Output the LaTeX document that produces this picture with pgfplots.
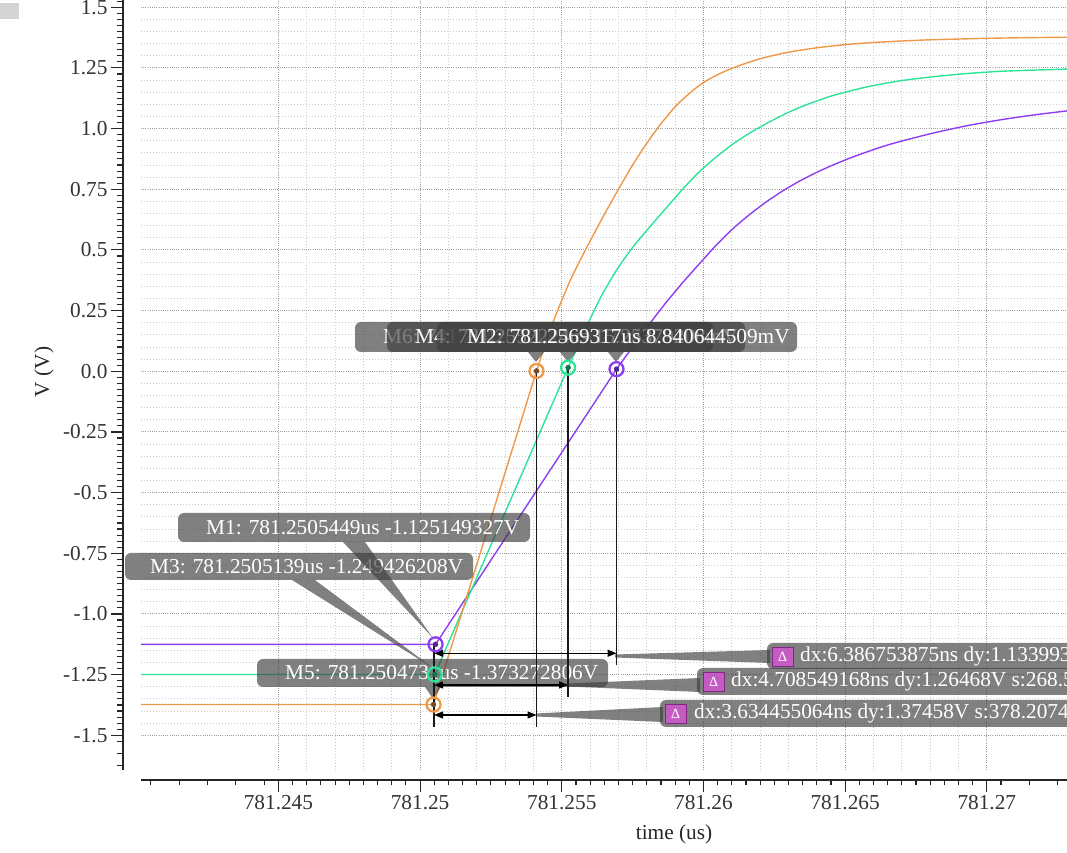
\documentclass[border=0pt]{standalone}
\usepackage{pgfplots}
\pgfplotsset{compat=1.18}
\usepackage{fontspec}
\setmainfont{Liberation Serif}
\usetikzlibrary{arrows.meta}
\definecolor{corange}{RGB}{238,152,72}
\definecolor{cgreen}{RGB}{44,228,150}
\definecolor{cpurple}{RGB}{140,62,240}
\definecolor{boxc}{RGB}{60,60,60}
\definecolor{deltac}{RGB}{196,92,196}
\definecolor{deltab}{RGB}{130,40,130}
\newcommand{\lfont}{\fontsize{21.3}{24}\selectfont}
\pgfplotsset{
  base/.style={
    scale only axis, width=926pt, height=770pt,
    xmin=-9.85, xmax=22.83, ymin=-1.643, ymax=1.530,
    at={(141pt,83pt)}, anchor=south west,
  }
}
\begin{document}
\begin{tikzpicture}
\useasboundingbox (0,0) rectangle (1067pt,853pt);
\clip (0,0) rectangle (1067pt,853pt);
\fill[black!17] (0pt,834pt) rectangle (19pt,850pt);
\begin{axis}[base,
  axis x line=bottom, axis y line=left,
  axis x line shift=10pt, axis y line shift=18pt,
  axis line style={-, black!85, line width=1.2pt},
  tick align=outside,
  major tick length=12pt, minor tick length=5.5pt,
  every tick/.style={black!85, line width=1.1pt},
  xtick={-5,0,5,10,15,20},
  xticklabels={781.245,781.25,781.255,781.26,781.265,781.27},
  ytick={-1.5,-1.25,...,1.5},
  yticklabels={-1.5,-1.25,-1.0,-0.75,-0.5,-0.25,0.0,0.25,0.5,0.75,1.0,1.25,1.5},
  minor x tick num=4, minor y tick num=4,
  extra x ticks={-9.5,-8.5,...,22.5},
  extra y ticks={-1.625,-1.575,...,1.525},
  extra x tick labels={}, extra y tick labels={},
  extra tick style={major tick length=5.5pt, grid=none},
  grid=both,
  major grid style={black!38, line width=1pt, dash pattern=on 1pt off 1.2pt},
  minor grid style={black!20, line width=1pt, dash pattern=on 1pt off 2pt},
  tick label style={font=\lfont, text=black!80},
  xlabel={time (us)}, ylabel={V (V)},
  label style={font=\lfont, text=black!85},
  xlabel style={at={(rel axis cs:0.5756,-0.0831)}, anchor=center},
  ylabel style={at={(rel axis cs:-0.1048,0.517)}, anchor=center},
  clip=true,
]
% purple
\addplot[cpurple, line width=1.4pt] coordinates {(-9.85,-1.125149) (0.5449,-1.125149) (6.9317,0.00884)};
\addplot[cpurple, line width=1.4pt, smooth, tension=0.4] coordinates {
(6.9317,0.00884) (7.50,0.100) (8.10,0.196) (8.70,0.286) (9.30,0.370) (9.88,0.446)
(10.47,0.522) (11.06,0.590) (11.65,0.648) (12.24,0.700) (12.82,0.745) (13.41,0.785)
(14.00,0.820) (14.59,0.851) (15.18,0.879) (15.77,0.904) (16.35,0.927) (16.94,0.947)
(18.12,0.982) (19.30,1.012) (20.47,1.036) (21.64,1.056) (22.83,1.073)};
% green
\addplot[cgreen, line width=1.4pt] coordinates {(-9.85,-1.249426) (0.5139,-1.249426) (5.2224,0.01525)};
\addplot[cgreen, line width=1.4pt, smooth, tension=0.4] coordinates {
(5.2224,0.01525) (5.80,0.165) (6.35,0.300) (6.95,0.420) (7.53,0.515) (8.10,0.594)
(8.70,0.675) (9.30,0.755) (9.88,0.825) (10.47,0.885) (11.06,0.938) (11.65,0.983)
(12.24,1.022) (12.82,1.057) (13.41,1.088) (14.00,1.114) (14.59,1.137) (15.77,1.172)
(16.94,1.197) (18.12,1.214) (19.30,1.227) (20.47,1.236) (21.64,1.241) (22.83,1.245)};
% orange
\addplot[corange, line width=1.4pt] coordinates {(-9.85,-1.373273) (0.4731,-1.373273) (4.1076,0.00131)};
\addplot[corange, line width=1.4pt, smooth, tension=0.4] coordinates {
(4.1076,0.00131) (4.70,0.205) (5.30,0.375) (5.88,0.510) (6.45,0.635) (7.00,0.750)
(7.50,0.850) (8.00,0.940) (8.50,1.020) (9.00,1.090) (9.50,1.145) (10.00,1.190)
(10.60,1.228) (11.20,1.257) (12.00,1.288) (13.00,1.315) (14.00,1.333) (15.00,1.346)
(16.00,1.355) (17.00,1.361) (18.00,1.366) (19.00,1.369) (20.00,1.372) (21.00,1.374)
(22.00,1.3755) (22.83,1.3765)};
\end{axis}

\begin{scope}[shift={(0pt,853pt)}, yscale=-1, x=1pt, y=1pt]
\tikzset{lbl/.style={anchor=west, text=white, font=\lfont, inner sep=0pt},
         bx/.style={fill=boxc, fill opacity=0.65, rounded corners=6pt}}
% top labels
\fill[bx] (355,322) rectangle (713,352);
\node[lbl] at (383,337) {M6: 781.2541076us 1.307194325mV};
\fill[bx] (387,322) rectangle (745,352);
\node[lbl] at (415,337) {M4: 781.2552224us 15.25379208mV};
\fill[bx] (437,322) rectangle (797,352);
\node[lbl] at (467,337) {M2: 781.2569317us 8.840644509mV};
\fill[boxc, fill opacity=0.65] (528,352) -- (544,352) -- (536,362) -- cycle;
\fill[boxc, fill opacity=0.65] (560,352) -- (576,352) -- (568,362) -- cycle;
\fill[boxc, fill opacity=0.65] (608,352) -- (624,352) -- (616,362) -- cycle;
% M3
\fill[bx] (125,553) rectangle (473,580);
\node[lbl] at (150,566.5) {M3: 781.2505139us -1.249426208V};
\fill[boxc, fill opacity=0.65] (292,580) -- (315,580) -- (433,668) -- cycle;
% M1
\fill[bx] (178,513) rectangle (530,542);
\node[lbl] at (206,527.5) {M1: 781.2505449us -1.125149327V};
\fill[boxc, fill opacity=0.65] (343,542) -- (365,542) -- (433,638) -- cycle;
% M5
\fill[bx] (257,659) rectangle (608,687);
\node[lbl] at (285,673) {M5: 781.2504731us -1.373272806V};
\fill[boxc, fill opacity=0.65] (425,687) -- (441,687) -- (433,699) -- cycle;
% delta connectors
\fill[boxc, fill opacity=0.65] (615,654.5) -- (770,650) -- (770,663) -- (615,657.5) -- cycle;
\fill[boxc, fill opacity=0.65] (567,683.5) -- (700,678) -- (700,692) -- (567,686.5) -- cycle;
\fill[boxc, fill opacity=0.65] (536,713.5) -- (663,707) -- (663,722) -- (536,716.5) -- cycle;
% delta boxes
\fill[bx] (767,643) rectangle (1090,669);
\fill[deltac, draw=deltab] (772,647) rectangle (793,666);
\node[text=white, font=\fontsize{14}{16}\selectfont, inner sep=0] at (782.5,656.5) {Δ};
\node[lbl] at (800,656) {dx:6.386753875ns dy:1.133993836V s:177.5527M};
\fill[bx] (697,668) rectangle (1090,695);
\fill[deltac, draw=deltab] (703,672) rectangle (724,691);
\node[text=white, font=\fontsize{14}{16}\selectfont, inner sep=0] at (713.5,681.5) {Δ};
\node[lbl] at (731,681.5) {dx:4.708549168ns dy:1.26468V s:268.5918M};
\fill[bx] (660,700) rectangle (1090,727);
\fill[deltac, draw=deltab] (665,704) rectangle (686,723);
\node[text=white, font=\fontsize{14}{16}\selectfont, inner sep=0] at (675.5,713.5) {Δ};
\node[lbl] at (694,713.5) {dx:3.634455064ns dy:1.37458V s:378.2074M};
\end{scope}

\begin{axis}[base, hide axis, clip=false]
\draw[black!90, line width=1.3pt] (axis cs:4.1076,0.00131) -- (axis cs:4.1076,-1.4658);
\draw[black!90, line width=1.3pt] (axis cs:5.2224,0.01525) -- (axis cs:5.2224,-1.342);
\draw[black!90, line width=1.3pt] (axis cs:6.9317,0.00884) -- (axis cs:6.9317,-1.2103);
\draw[black!90, line width=1.3pt] (axis cs:0.494,-1.125149) -- (axis cs:0.494,-1.4658);
\draw[black, line width=1.2pt, {Triangle[length=9pt,width=7pt]}-{Triangle[length=9pt,width=7pt]}] (axis cs:0.494,-1.162) -- (axis cs:6.9317,-1.162);
\draw[black, line width=1.2pt, {Triangle[length=9pt,width=7pt]}-{Triangle[length=9pt,width=7pt]}] (axis cs:0.494,-1.2927) -- (axis cs:5.2224,-1.2927);
\draw[black, line width=1.2pt, {Triangle[length=9pt,width=7pt]}-{Triangle[length=9pt,width=7pt]}] (axis cs:0.494,-1.4163) -- (axis cs:4.1076,-1.4163);
\addplot[only marks, mark=o, mark size=7pt, cpurple, mark options={line width=2.3pt}] coordinates {(0.5449,-1.125149) (6.9317,0.00884)};
\addplot[only marks, mark=o, mark size=7pt, cgreen, mark options={line width=2.3pt}] coordinates {(0.5139,-1.249426) (5.2224,0.01525)};
\addplot[only marks, mark=o, mark size=7pt, corange, mark options={line width=2.3pt}] coordinates {(0.4731,-1.373273) (4.1076,0.00131)};
\addplot[only marks, mark=*, mark size=2.5pt, cpurple!60!black] coordinates {(0.5449,-1.125149) (6.9317,0.00884)};
\addplot[only marks, mark=*, mark size=2.5pt, cgreen!50!black] coordinates {(0.5139,-1.249426) (5.2224,0.01525)};
\addplot[only marks, mark=*, mark size=2.5pt, corange!50!black] coordinates {(0.4731,-1.373273) (4.1076,0.00131)};
\end{axis}
\end{tikzpicture}
\end{document}
